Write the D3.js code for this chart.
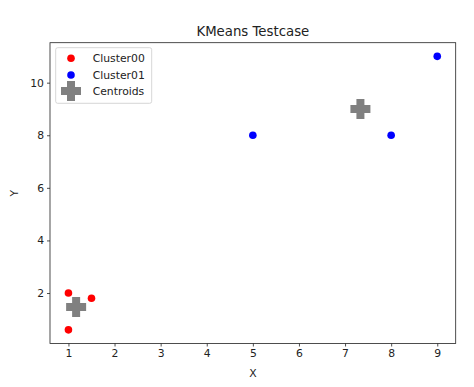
<!DOCTYPE html>
<html>
<head>
<meta charset="utf-8">
<script src="https://cdn.jsdelivr.net/npm/d3@7"></script>
<style>
body{margin:0;background:#fff;}
text{font-family:"DejaVu Sans",sans-serif;fill:#222;}
</style>
</head>
<body>
<svg id="chart"></svg>
<script>
var width = 474;
var height = 387;

// data
var cluster00 = [[1,2],[1.5,1.8],[1,0.6]];
var cluster01 = [[5,8],[8,8],[9,11]];
var centroids = [[1.1667,1.4667],[7.3333,9]];
var xTicks = [1,2,3,4,5,6,7,8,9];
var yTicks = [2,4,6,8,10];
var legendNames = ["Cluster00","Cluster01","Centroids"];

var margin = {left:50, right:18.3, top:42.7, bottom:43.5};

var svg = d3.select('#chart')
            .attr("width",width)
            .attr("height",height)

var x = d3.scaleLinear().domain([0.6,9.4]).range([margin.left,width-margin.right]);
var y = d3.scaleLinear().domain([0.08,11.52]).range([height-margin.bottom,margin.top]);

// plus marker shape (matplotlib 'P')
function plusPath(s){
  var a = s/2, b = s/5;
  return "M"+(-b)+","+(-a)+"H"+b+"V"+(-b)+"H"+a+"V"+b+"H"+b+"V"+a+"H"+(-b)+"V"+b+"H"+(-a)+"V"+(-b)+"H"+(-b)+"Z";
}

// axes
var xAxis = svg.append("g")
  .attr("transform","translate(0,"+(height-margin.bottom)+")")
  .call(d3.axisBottom(x).tickValues(xTicks).tickSize(3).tickPadding(3).tickFormat(d3.format("d")));
var yAxis = svg.append("g")
  .attr("transform","translate("+margin.left+",0)")
  .call(d3.axisLeft(y).tickValues(yTicks).tickSize(3).tickPadding(3).tickFormat(d3.format("d")));
[xAxis,yAxis].forEach(function(g){
  g.select(".domain").remove();
  g.selectAll("line").attr("stroke","#222").attr("stroke-width",0.8);
  g.selectAll("text").style("font-size","10.8px").attr("fill","#222");
});

svg.append("rect")
  .attr("x",margin.left).attr("y",margin.top)
  .attr("width",width-margin.left-margin.right)
  .attr("height",height-margin.top-margin.bottom)
  .attr("fill","none").attr("stroke","#222").attr("stroke-width",0.8);

// points
svg.selectAll("circle.c0")
  .data(cluster00).enter().append("circle")
  .attr("class","c0")
  .attr("cx",d=>x(d[0])).attr("cy",d=>y(d[1]))
  .attr("r",3.8).attr("fill","red");

svg.selectAll("circle.c1")
  .data(cluster01).enter().append("circle")
  .attr("class","c1")
  .attr("cx",d=>x(d[0])).attr("cy",d=>y(d[1]))
  .attr("r",3.8).attr("fill","blue");

svg.selectAll("path.cent")
  .data(centroids).enter().append("path")
  .attr("class","cent")
  .attr("transform",d=>"translate("+x(d[0])+","+y(d[1])+")")
  .attr("d",plusPath(20)).attr("fill","gray");

// title and labels
svg.append("text")
  .attr("x",(margin.left+width-margin.right)/2).attr("y",35.5)
  .attr("text-anchor","middle").style("font-size","13.3px")
  .text("KMeans Testcase");
svg.append("text")
  .attr("x",(margin.left+width-margin.right)/2).attr("y",377)
  .attr("text-anchor","middle").style("font-size","10.8px")
  .text("X");
svg.append("text")
  .attr("transform","translate(18,"+((margin.top+height-margin.bottom)/2)+") rotate(-90)")
  .attr("text-anchor","middle").style("font-size","10.8px")
  .text("Y");

// legend
var legend = svg.append("g");
legend.append("rect")
  .attr("x",55.7).attr("y",47.7).attr("width",96).attr("height",55.6).attr("rx",2)
  .attr("fill","white").attr("fill-opacity",0.8).attr("stroke","#ccc").attr("stroke-width",0.8);
var rows = [58.3,75,91];
legend.append("circle").attr("cx",71).attr("cy",rows[0]).attr("r",3.8).attr("fill","red");
legend.append("circle").attr("cx",71).attr("cy",rows[1]).attr("r",3.8).attr("fill","blue");
legend.append("path").attr("transform","translate(71,"+rows[2]+")").attr("d",plusPath(20)).attr("fill","gray");
legend.selectAll("text.lg")
  .data(legendNames).enter().append("text")
  .attr("class","lg")
  .attr("x",92.7).attr("y",(d,i)=>rows[i]+3.9)
  .style("font-size","10.8px")
  .text(d=>d);
</script>
</body>
</html>
